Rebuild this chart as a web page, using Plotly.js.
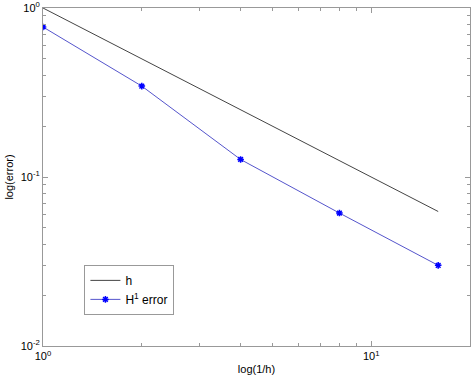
<!DOCTYPE html>
<html><head><meta charset="utf-8">
<script src="https://cdn.plot.ly/plotly-3.0.1.min.js"></script>
<style>html,body{margin:0;padding:0;background:#fff}#chart{width:474px;height:377px}</style>
</head><body><div id="chart"></div>
<script>
const hX = [1, 16];
const hY = [1, 0.0625];
const errX = [1, 2, 4, 8, 16];
const errY = [0.772, 0.345, 0.127, 0.0612, 0.0300];
const xTickVals = [1, 10];
const xTickText = ['10<sup>0</sup>', '10<sup>1</sup>'];
const yTickVals = [0.01, 0.1, 1];
const yTickText = ['10<sup>-2</sup>', '10<sup>-1</sup>', '10<sup>0</sup>'];
const xMinor = [2,3,4,5,6,7,8,9,20];
const yMinor = [0.02,0.03,0.04,0.05,0.06,0.07,0.08,0.09,0.2,0.3,0.4,0.5,0.6,0.7,0.8,0.9];

const font = {family: 'Liberation Sans, Arial, sans-serif', size: 11, color: '#000'};
const traces = [
  {x: hX, y: hY, mode: 'lines', name: 'h', line: {color: '#444', width: 1}},
  {x: errX, y: errY, mode: 'lines+markers', name: 'H<sup>1</sup> error',
   line: {color: '#5555cc', width: 1},
   marker: {symbol: 'asterisk-open', size: 5.5, color: '#0000ff', line: {color: '#0000ff', width: 1.5}}}
];
const axisCommon = {
  type: 'log', showgrid: false, zeroline: false, showline: true, linecolor: '#999', linewidth: 1,
  mirror: 'allticks', ticks: 'inside', ticklen: 5, tickcolor: '#999', tickmode: 'array',
  tickfont: font
};
const layout = {
  width: 474, height: 377,
  margin: {l: 43, r: 4, t: 8, b: 31},
  paper_bgcolor: '#fff', plot_bgcolor: '#fff',
  font: font,
  showlegend: true,
  legend: {x: 0.097, y: 0.24, xanchor: 'left', yanchor: 'top', bgcolor: '#fff', bordercolor: '#999', borderwidth: 1,
    font: {family: 'Liberation Sans, Arial, sans-serif', size: 12, color: '#000'}, tracegroupgap: 0, itemwidth: 30},
  xaxis: Object.assign({}, axisCommon, {
    range: [0, Math.log10(20)], tickvals: xTickVals, ticktext: xTickText,
    minor: {tickmode: 'array', tickvals: xMinor, ticks: 'inside', ticklen: 3, tickcolor: '#999'},
    title: {text: 'log(1/h)', font: font, standoff: 4}
  }),
  yaxis: Object.assign({}, axisCommon, {
    range: [-2, 0], tickvals: yTickVals, ticktext: yTickText,
    minor: {tickmode: 'array', tickvals: yMinor, ticks: 'inside', ticklen: 3, tickcolor: '#999'},
    title: {text: 'log(error)', font: font, standoff: 4}
  })
};
Plotly.newPlot('chart', traces, layout, {displayModeBar: false, staticPlot: true});
</script></body></html>
